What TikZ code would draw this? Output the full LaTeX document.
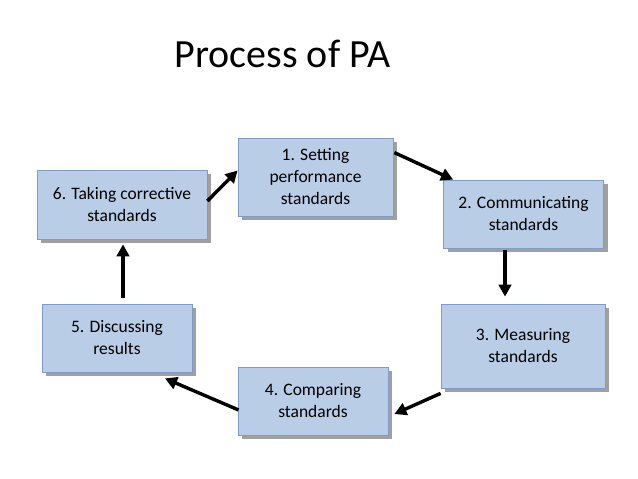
\documentclass[tikz,border=0pt]{standalone}
\usepackage{fontspec}
\setmainfont{Carlito}
\usetikzlibrary{shadows,arrows.meta,calc}
\definecolor{boxfill}{HTML}{B9CDE6}
\definecolor{boxline}{HTML}{7F9BC6}
\definecolor{shadowgray}{HTML}{A0A0A0}
\tikzset{
  pbox/.style={draw=boxline, line width=0.8pt, fill=boxfill, align=center, inner sep=2pt,
    font=\fontsize{17.5}{22}\selectfont,
    drop shadow={shadow xshift=4pt, shadow yshift=-4pt, fill=shadowgray, opacity=1}},
  flow/.style={line width=3.4pt, -{Triangle[length=12pt,width=12.5pt]}, black}
}
\begin{document}
\begin{tikzpicture}[x=1pt,y=1pt]
\useasboundingbox (0,0) rectangle (638,-479);
\node[anchor=base, font=\fontsize{40}{48}\selectfont] (title) at (282.5,-67) {Process of PA};
\node[pbox, minimum width=155pt, minimum height=78pt] (b1) at (315.5,-177) {1. Setting\\performance\\standards};
\node[pbox, minimum width=160pt, minimum height=68pt] (b2) at (523.5,-214) {2. Communicating\\standards};
\node[pbox, minimum width=164pt, minimum height=84pt] (b3) at (523,-346) {3. Measuring\\standards};
\node[pbox, minimum width=150pt, minimum height=68pt] (b4) at (313,-401) {4. Comparing\\standards};
\node[pbox, minimum width=150pt, minimum height=68pt] (b5) at (117,-338) {5. Discussing\\results};
\node[pbox, minimum width=170pt, minimum height=69pt] (b6) at (122,-204.5) {6. Taking corrective\\standards};
\draw[flow] ($(b6.east)+(0,3.5)$) -- ($(b1.west)+(0,6.5)$);
\draw[flow] ($(b1.north east)+(1,-15)$) -- ($(b2.north west)+(10,0)$);
\draw[flow] ($(b2.south)+(-18.5,-2)$) -- ($(b3.north)+(-18,7)$);
\draw[flow] ($(b3.south west)+(0,-5)$) -- ($(b4.east)+(6,-13)$);
\draw[flow] ($(b4.west)+(1,-9)$) -- ($(b5.south)+(48,-6)$);
\draw[flow] ($(b5.north)+(6,6)$) -- ($(b6.south)+(1,-5)$);
\end{tikzpicture}
\end{document}
